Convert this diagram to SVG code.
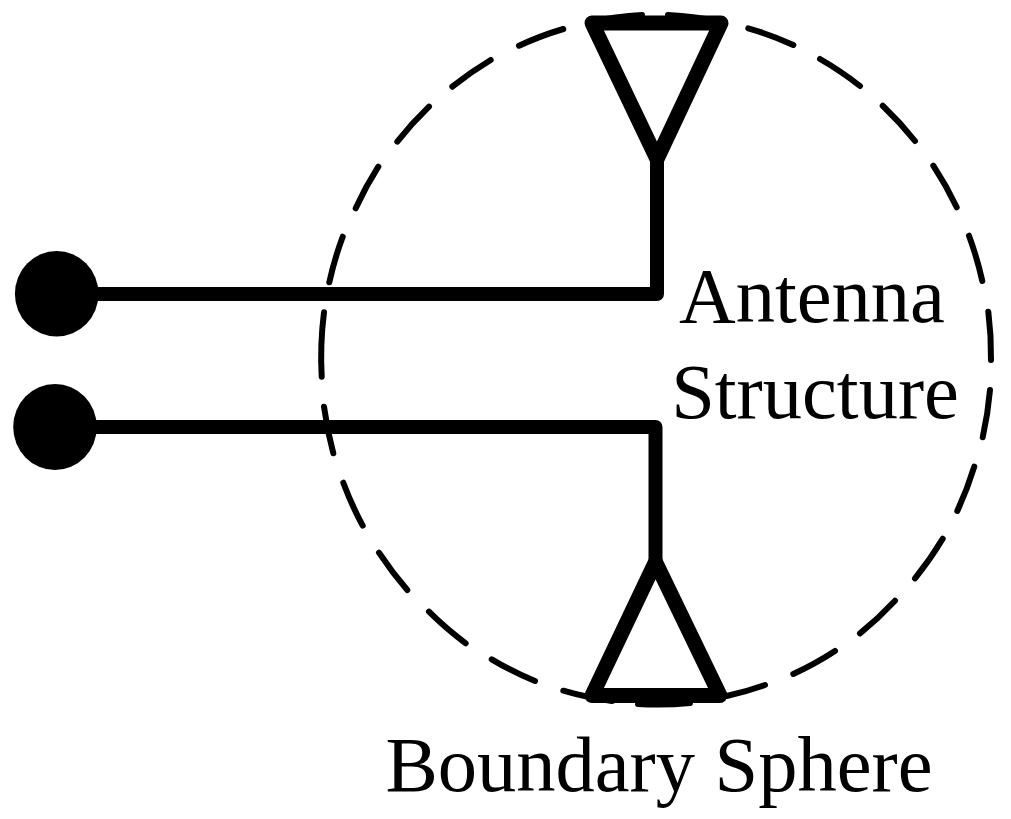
<svg xmlns="http://www.w3.org/2000/svg" width="1011" height="819" viewBox="0 0 1011 819">
<style>
.w{fill:none;stroke:#000;stroke-linejoin:round}
.d{fill:none;stroke:#000;stroke-width:6;stroke-linecap:round}
.t{font-family:"Liberation Serif","Times New Roman",serif;font-size:78.500px;fill:#000;text-anchor:middle}
</style>
<rect width="1011" height="819" fill="#fff"/>
<g id="boundary-sphere" class="d">
<path d="M748.300 28.300A334.500 345 0 0 1 793.300 45"/>
<path d="M820 59A334.500 345 0 0 1 860 86"/>
<path d="M882.700 105.700A334.500 345 0 0 1 915 141"/>
<path d="M933.300 165.700A334.500 345 0 0 1 956.700 207.300"/>
<path d="M969 235.700A334.500 345 0 0 1 982.300 281"/>
<path d="M988.300 311.700A334.500 345 0 0 1 991 360"/>
<path d="M990 390A334.500 345 0 0 1 982.700 437.300"/>
<path d="M974.300 466.700A334.500 345 0 0 1 957.300 511"/>
<path d="M942.700 538.700A334.500 345 0 0 1 915 578.300"/>
<path d="M895 600.700A334.500 345 0 0 1 860 633.300"/>
<path d="M835 651A334.500 345 0 0 1 793.300 674"/>
<path d="M765 685A334.500 345 0 0 1 726.700 696"/>
<path d="M690 703A334.500 345 0 0 1 638 704"/>
<path d="M612 701A334.500 345 0 0 1 563.300 690.700"/>
<path d="M535 681A334.500 345 0 0 1 491.700 659.300"/>
<path d="M465.700 643.300A334.500 345 0 0 1 429 611.700"/>
<path d="M407.300 590A334.500 345 0 0 1 379 552.700"/>
<path d="M362.700 525.700A334.500 345 0 0 1 343.300 482.700"/>
<path d="M333.300 453.300A334.500 345 0 0 1 324 406.700"/>
<path d="M321.700 376.700A334.500 345 0 0 1 324 312.300"/>
<path d="M329.300 282.300A334.500 345 0 0 1 342.700 236.700"/>
<path d="M355.700 208.300A334.500 345 0 0 1 378.300 166.700"/>
<path d="M397.300 141.700A334.500 345 0 0 1 429 106.700"/>
<path d="M452.300 86.700A334.500 345 0 0 1 490.700 60"/>
<path d="M519 45.700A334.500 345 0 0 1 563.300 29"/>
<path d="M590 22A334.500 345 0 0 1 642 15"/>
<path d="M668 15A334.500 345 0 0 1 722 22"/>
</g>
<g id="connectors">
<path class="w" stroke-width="14" d="M95 294H657V159"/>
<path class="w" stroke-width="14" d="M95 427H655.500V562"/>
</g>
<g id="antenna-top"><path class="w" stroke-width="15" d="M592 23H721L657 159Z"/></g>
<g id="antenna-bottom"><path class="w" stroke-width="15" d="M592 695.500H720L655.500 562Z"/></g>
<g id="port-1"><ellipse cx="56.700" cy="293.800" rx="41.800" ry="42.800"/></g>
<g id="port-2"><ellipse cx="55" cy="427" rx="41.800" ry="43"/></g>
<g id="label-antenna"><text class="t" x="812" y="321.700">Antenna</text><text class="t" x="815" y="417.500">Structure</text></g>
<g id="label-boundary"><text class="t" x="659" y="791">Boundary Sphere</text></g>
</svg>
